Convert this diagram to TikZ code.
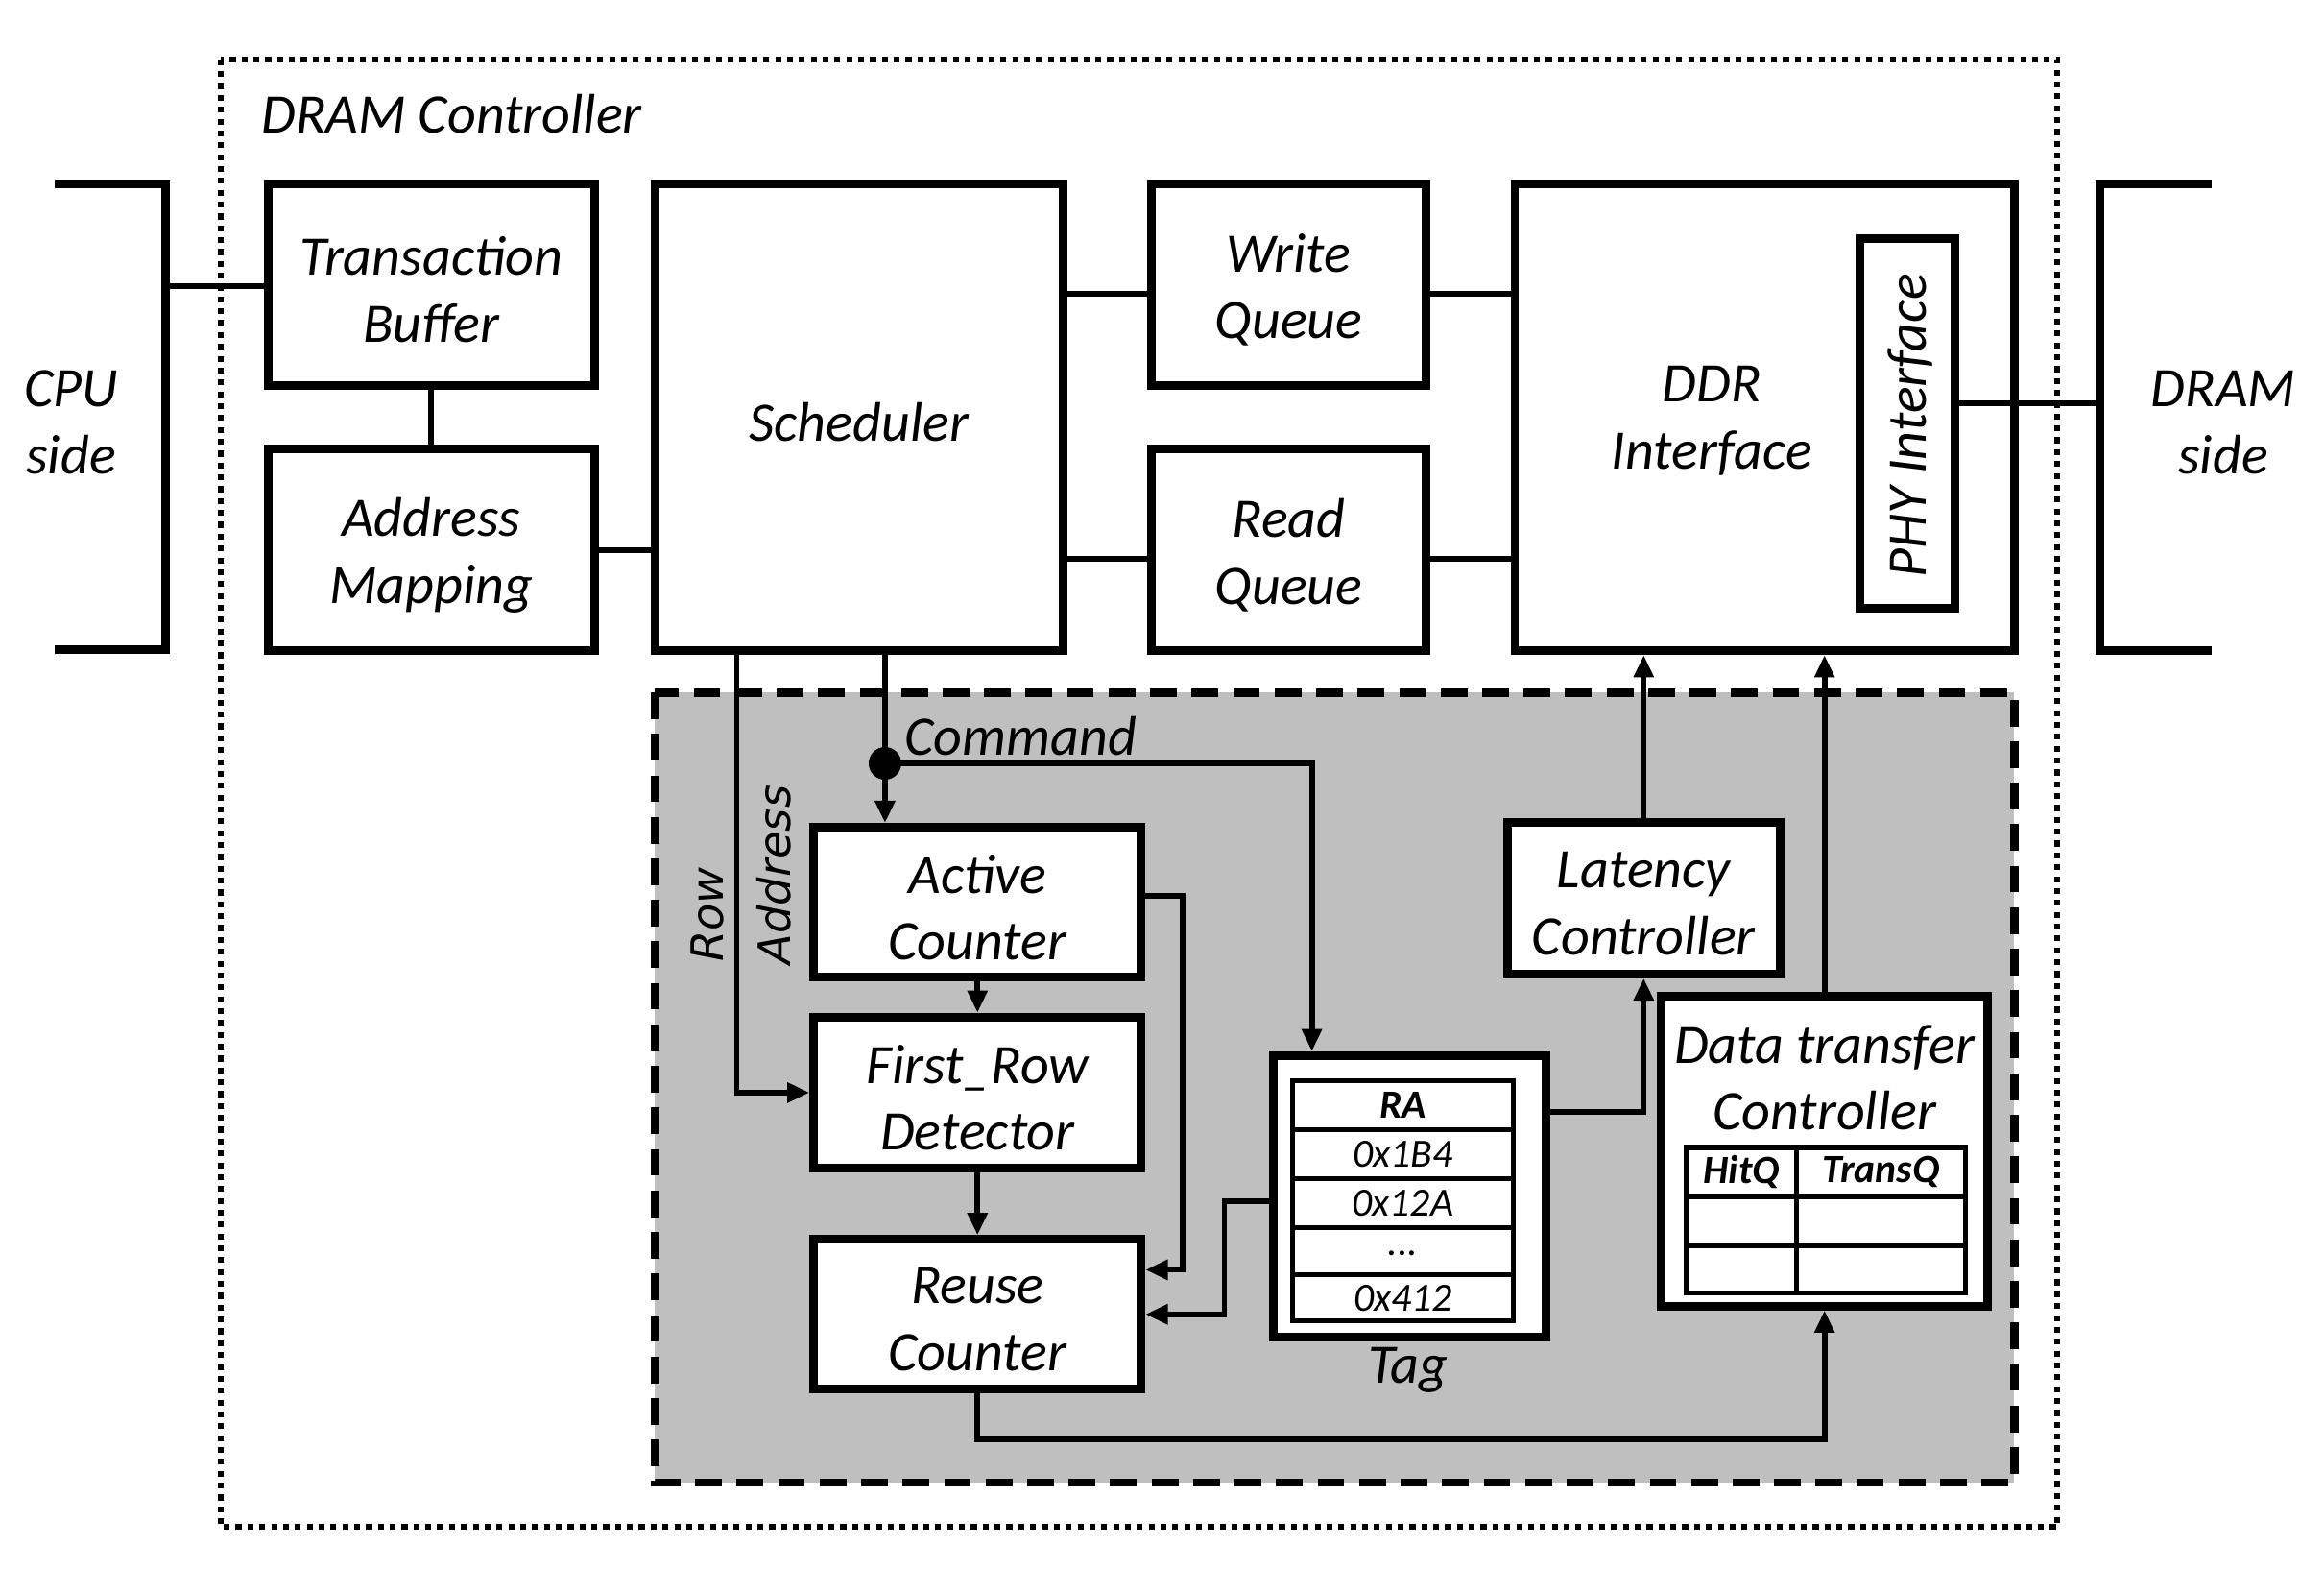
\documentclass[tikz,border=0pt]{standalone}
\usepackage{fontspec}
\setmainfont{Carlito}
\newfontfamily\vfont{DejaVu Sans}
\usetikzlibrary{arrows.meta,calc}
\tikzset{
  blkbox/.style={draw,line width=2.9pt,fill=white,inner sep=0pt},
  cell/.style={draw,line width=1.7pt,fill=white,inner sep=0pt,
    font=\itshape\fontsize{13.5}{15}\selectfont},
  conn/.style={line width=1.9pt},
  arr/.style={line width=1.9pt,-{Triangle[length=7.5pt,width=6.5pt]}},
  lbl/.style={font=\itshape\fontsize{18.8}{22.5}\selectfont,align=center,inner sep=0pt},
}
\newcommand\blk[7][]{\node[blkbox,#1,minimum width={(#5-#3)*0.5pt},minimum height={(#6-#4)*0.5pt}] (#2) at ({(#3+#5)/2},{(#4+#6)/2}) {};
\node[lbl] (#2l) at ({(#3+#5)/2},{(#4+#6)/2+3.5}) {#7};}
\newcommand\cel[7][]{\node[cell,#1,minimum width={(#5-#3)*0.5pt},minimum height={(#6-#4)*0.5pt}] (#2) at ({(#3+#5)/2},{(#4+#6)/2}) {#7};}
\begin{document}
\begin{tikzpicture}[x=0.5pt,y=-0.5pt]
\useasboundingbox (0,0) rectangle (1568,1058);
% outer dotted frame
\draw[line width=2pt,dash pattern=on 2pt off 2pt] (149,40) rectangle (1388,1030);
\node[lbl,anchor=west] (dc) at (176,77) {DRAM Controller};
% gray region
\draw[line width=2.9pt,dash pattern=on 9pt off 5pt,fill=black!25] (442,467) rectangle (1359,1000);
% CPU side bracket
\coordinate (cpu1) at (37,124);
\coordinate (cpu2) at (112,124);
\coordinate (cpu3) at (112,438);
\coordinate (cpu4) at (37,438);
\coordinate (cpuc) at (112,193);
\draw[line width=2.9pt] (cpu1) -- (cpu2) -- (cpu3) -- (cpu4);
\node[lbl] (cpul) at (48,285) {CPU\\side};
% DRAM side bracket
\coordinate (dr1) at (1492,124);
\coordinate (dr2) at (1417,124);
\coordinate (dr3) at (1417,439);
\coordinate (dr4) at (1492,439);
\coordinate (drc) at (1417,272);
\draw[line width=2.9pt] (dr1) -- (dr2) -- (dr3) -- (dr4);
\node[lbl] (drl) at (1500,285) {DRAM\\side};
% top blocks
\blk{tb}{181}{124}{401}{260}{Transaction\\Buffer}
\blk{am}{181}{303}{401}{439}{Address\\Mapping}
\blk{sch}{442}{124}{717}{439}{Scheduler}
\blk{wq}{777}{124}{962}{260}{Write\\Queue}
\blk{rq}{777}{303}{962}{439}{Read\\Queue}
\blk{ddr}{1022}{124}{1359}{439}{}
\node[lbl] (ddrl2) at (1155,284) {DDR\\Interface};
\blk{phy}{1255}{161}{1319}{410}{}
\node[lbl,rotate=90] (phyl2) at (1289,287) {PHY Interface};
% top connectors
\coordinate (wqw) at ($(wq.west)+(0,6)$);
\coordinate (rqw) at ($(rq.west)+(0,6)$);
\coordinate (wqe) at ($(wq.east)+(0,6)$);
\coordinate (rqe) at ($(rq.east)+(0,6)$);
\draw[conn] (cpuc) -- (cpuc -| tb.west);
\draw[conn] (tb.south) -- (am.north);
\draw[conn] (am.east) -- (am.east -| sch.west);
\draw[conn] (wqw) -- (wqw -| sch.east);
\draw[conn] (rqw) -- (rqw -| sch.east);
\draw[conn] (wqe) -- (wqe -| ddr.west);
\draw[conn] (rqe) -- (rqe -| ddr.west);
\draw[conn] (drc) -- (drc -| phy.east);
% lower blocks
\blk{ac}{549}{558}{770}{659}{Active\\Counter}
\blk{frd}{549}{686}{770}{788}{First\_Row\\Detector}
\blk{rc}{549}{836}{770}{937}{Reuse\\Counter}
\blk{lc}{1017}{555}{1201}{657}{Latency\\Controller}
\blk{tag}{859}{712}{1043}{902}{}
\blk{dtc}{1121}{672}{1341}{881}{}
\node[lbl] (dtcl2) at (1231,727) {Data transfer\\Controller};
% tag table
\cel[font=\bfseries\itshape\fontsize{13.5}{15}\selectfont]{t1}{872}{729}{1021}{762}{RA}
\cel{t2}{872}{762}{1021}{795}{0x1B4}
\cel{t3}{872}{795}{1021}{828}{0x12A}
\cel{t4}{872}{828}{1021}{860}{\raisebox{-3pt}{...}}
\cel{t5}{872}{860}{1021}{891}{0x412}
\node[lbl] (tagl) at (950,924) {Tag};
% dtc table
\cel[font=\bfseries\itshape\fontsize{13.5}{15}\selectfont]{h1}{1138}{774}{1212}{807}{HitQ}
\cel[font=\bfseries\itshape\fontsize{13.5}{15}\selectfont]{h2}{1212}{774}{1326}{807}{TransQ}
\cel{c11}{1138}{807}{1212}{840}{}
\cel{c12}{1212}{807}{1326}{840}{}
\cel{c21}{1138}{840}{1212}{872}{}
\cel{c22}{1212}{840}{1326}{872}{}
% lower connectors
\coordinate (rowtop) at ($(sch.south west)+(58,0)$);
\coordinate (cmdtop) at ($(sch.south west)+(158,0)$);
\coordinate (cmddot) at ($(cmdtop)+(0,73)$);
\coordinate (tagin) at ($(tag.north west)+(29,0)$);
\draw[arr] (rowtop) |- (frd.west);
\draw[arr] (cmdtop) -- (cmdtop |- ac.north);
\fill (cmddot) circle (5.5pt);
\draw[arr] (cmddot) -| (tagin);
\node[lbl,anchor=south west] (cmdl) at ($(cmddot)+(13,-5)$) {Command};
\node[font=\vfont\itshape\fontsize{15}{17}\selectfont,rotate=90] (rowl) at (477,617) {Row};
\node[font=\vfont\itshape\fontsize{15}{17}\selectfont,rotate=90] (addrl) at (522,590) {Address};
\draw[arr] (ac.south) -- (frd.north);
\draw[arr] (frd.south) -- (rc.north);
\coordinate (acout) at ($(ac.east)+(0,-4)$);
\coordinate (rcin1) at ($(rc.east)+(0,-30)$);
\coordinate (tagout) at ($(tag.west)+(0,3)$);
\coordinate (tagout2) at ($(tag.east)+(0,-57)$);
\draw[arr] (acout) -- ++(25,0) |- (rcin1);
\draw[arr] (tagout) -- ++(-30,0) |- (rc.east);
\draw[arr] (tagout2) -| (lc.south);
\draw[arr] (lc.north) -- (lc.north |- ddr.south);
\draw[arr] (dtc.north) -- (dtc.north |- ddr.south);
\draw[arr] (rc.south) -- ++(0,31) -| (dtc.south);
\end{tikzpicture}
\end{document}
